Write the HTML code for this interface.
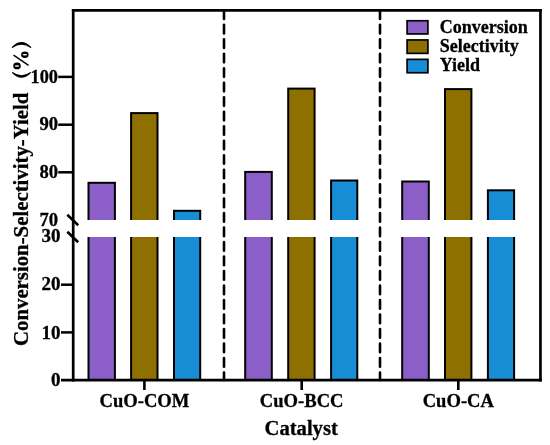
<!DOCTYPE html>
<html>
<head>
<meta charset="utf-8">
<style>
html,body{margin:0;padding:0;background:#fff;}
body{width:550px;height:445px;overflow:hidden;}
svg{display:block;will-change:transform;}
text{font-family:"Liberation Serif",serif;font-weight:bold;fill:#000;stroke:#000;stroke-width:0.3px;}
</style>
</head>
<body>
<svg width="550" height="445" viewBox="0 0 550 445">
<rect x="0" y="0" width="550" height="445" fill="#fff"/>
<!-- bars -->
<g stroke="#000" stroke-width="2">
<rect x="88.5" y="182.8" width="26.4" height="197.2" fill="#8c5fc8"/>
<rect x="131.1" y="113.1" width="26.4" height="266.9" fill="#8e7000"/>
<rect x="174" y="210.8" width="26.2" height="169.2" fill="#168dd4"/>
<rect x="245.2" y="171.9" width="26.6" height="208.1" fill="#8c5fc8"/>
<rect x="288.2" y="88.6" width="26.4" height="291.4" fill="#8e7000"/>
<rect x="331.1" y="180.5" width="26.2" height="199.5" fill="#168dd4"/>
<rect x="402.2" y="181.5" width="26.6" height="198.5" fill="#8c5fc8"/>
<rect x="445" y="89.1" width="26.4" height="290.9" fill="#8e7000"/>
<rect x="487.9" y="190.3" width="26.2" height="189.7" fill="#168dd4"/>
</g>
<!-- break band -->
<rect x="75" y="220" width="464" height="17" fill="#fff"/>
<!-- dashed separators -->
<g stroke="#000" stroke-width="2.6" stroke-linecap="round" stroke-dasharray="8.6 5.89">
<line x1="224" y1="10.3" x2="224" y2="380"/>
<line x1="380" y1="10.3" x2="380" y2="380"/>
</g>
<!-- frame -->
<g stroke="#000" stroke-width="2.7" fill="none">
<line x1="73.2" y1="9" x2="73.2" y2="381.4"/>
<line x1="71.9" y1="10.3" x2="541.8" y2="10.3"/>
<line x1="540.45" y1="9" x2="540.45" y2="381.4"/>
<line x1="61" y1="380.05" x2="541.8" y2="380.05"/>
</g>
<!-- y ticks -->
<g stroke="#000" stroke-width="2.5">
<line x1="58.2" y1="76.9" x2="73" y2="76.9"/>
<line x1="58.2" y1="124.7" x2="73" y2="124.7"/>
<line x1="58.2" y1="172.3" x2="73" y2="172.3"/>
<line x1="61" y1="284.7" x2="73" y2="284.7"/>
<line x1="61" y1="332.4" x2="73" y2="332.4"/>
</g>
<!-- x ticks -->
<g stroke="#000" stroke-width="2.6">
<line x1="144.4" y1="380" x2="144.4" y2="390"/>
<line x1="301.7" y1="380" x2="301.7" y2="390"/>
<line x1="458.3" y1="380" x2="458.3" y2="390"/>
</g>
<!-- break marks -->
<g stroke="#000" stroke-width="2.6">
<line x1="67.3" y1="214.8" x2="78.2" y2="225.2"/>
<line x1="67.3" y1="231.8" x2="78.2" y2="242.2"/>
</g>
<!-- y tick labels -->
<g font-size="19.6" text-anchor="end">
<text transform="translate(58,82.5) scale(0.935,1)">100</text>
<text transform="translate(58,130.4) scale(0.95,1)">90</text>
<text transform="translate(58,178.3) scale(0.95,1)">80</text>
<text transform="translate(58,226.3) scale(0.95,1)">70</text>
</g>
<g font-size="19" text-anchor="end">
<text transform="translate(60.4,242.3)">30</text>
<text transform="translate(60.4,290.3)">20</text>
<text transform="translate(60.4,338.5)">10</text>
<text transform="translate(60.4,386)">0</text>
</g>
<!-- x tick labels -->
<g font-size="18.6" text-anchor="middle">
<text x="144.4" y="406.9">CuO-COM</text>
<text x="301.7" y="406.9">CuO-BCC</text>
<text x="458.3" y="406.9">CuO-CA</text>
</g>
<text x="301.2" y="434.5" font-size="20.6" text-anchor="middle">Catalyst</text>
<!-- y title -->
<text transform="translate(28.4,346) rotate(-90) scale(1,1.04)" font-size="20.8">Conversion-Selectivity-Yield</text>
<path d="M11.5,47.2 Q21.5,36.8 31.5,47.2 L30.7,47.9 Q21.5,41.4 12.3,47.9 Z" fill="#000"/>
<path d="M11.8,72.8 Q21.5,82.8 31.2,72.8 L30.4,72.1 Q21.5,78.6 12.6,72.1 Z" fill="#000"/>
<g fill="#000">
<ellipse cx="24.85" cy="54.75" rx="3.75" ry="3.25"/>
<ellipse cx="17" cy="65.95" rx="3.8" ry="3.35"/>
</g>
<g fill="#fff">
<ellipse cx="24.85" cy="54.75" rx="2.4" ry="0.8"/>
<ellipse cx="17" cy="65.95" rx="2.4" ry="0.8"/>
</g>
<line x1="13.5" y1="55.2" x2="28.6" y2="65.3" stroke="#000" stroke-width="1.4"/>
<!-- legend -->
<g stroke="#000" stroke-width="1.7">
<rect x="407.1" y="20.75" width="20.8" height="13.2" fill="#8c5fc8"/>
<rect x="407.1" y="39.95" width="20.8" height="13.4" fill="#8e7000"/>
<rect x="407.1" y="59.35" width="20.8" height="13.4" fill="#168dd4"/>
</g>
<g font-size="18">
<text x="439.7" y="32.6">Conversion</text>
<text x="439.7" y="51.9">Selectivity</text>
<text x="439.7" y="71.2">Yield</text>
</g>
</svg>
</body>
</html>
